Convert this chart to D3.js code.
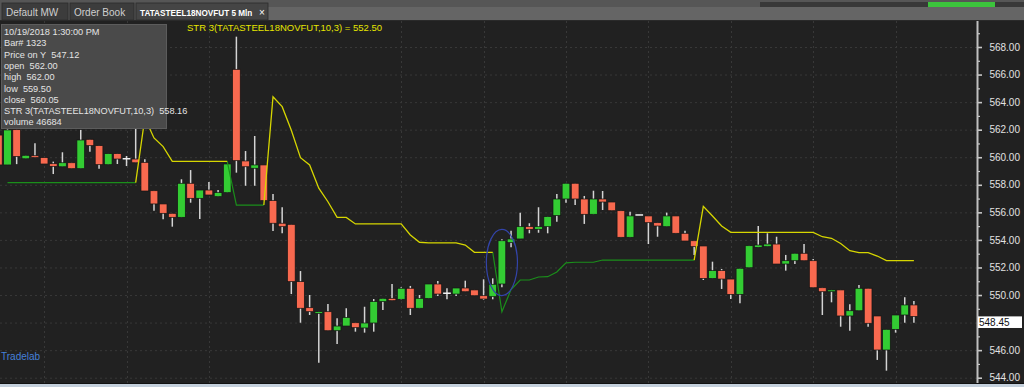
<!DOCTYPE html>
<html>
<head>
<meta charset="utf-8">
<script src="https://cdnjs.cloudflare.com/ajax/libs/d3/7.8.5/d3.min.js"></script>
<style>
  html, body { margin: 0; padding: 0; background: #212121; }
  svg { display: block; font-family: "Liberation Sans", Arial, sans-serif; }
</style>
</head>
<body>
<svg id="chart"></svg>
<script>
/* global d3 */

// 5 min bars, TATASTEEL18NOVFUT (first bar is cut at the left edge)
const open = [
  561.61, 559.44, 562.00, 559.89, 560.11, 559.97, 559.53, 559.31, 559.60, 559.17, 561.30,
  560.84, 559.46, 560.26, 559.89, 559.87, 559.63, 557.57, 556.61, 555.93, 555.64,
  558.11, 557.02, 557.62, 557.14, 557.43, 566.38, 559.73, 559.20, 559.44, 556.85,
  555.21, 555.13, 550.97, 549.08, 548.67, 548.79, 547.41, 547.75, 547.99, 547.61,
  547.97, 549.52, 549.76, 549.69, 550.49, 549.04, 549.76, 550.80, 550.13, 550.07,
  550.51, 550.37, 549.95, 549.88, 550.80, 553.80, 554.07, 554.96, 554.77, 554.96,
  555.76, 556.97, 558.11, 556.97, 555.86, 556.97, 556.75, 556.12, 554.19, 555.81,
  555.74, 555.25, 554.96, 555.74, 554.48, 553.94, 553.56, 551.21, 551.77, 551.16,
  550.05, 551.98, 553.46, 553.51, 553.70, 552.25, 552.49, 553.03, 552.49, 550.53,
  550.24, 550.37, 548.48, 548.86, 550.49, 548.48, 546.01, 547.51, 548.55, 549.28
];
const high = [
  561.75, 562.22, 562.00, 560.14, 561.01, 559.97, 559.68, 560.36, 559.60, 561.98, 561.30,
  560.84, 560.26, 560.26, 560.09, 562.17, 559.85, 557.57, 556.61, 555.93, 558.40,
  559.07, 557.62, 558.20, 557.62, 559.51, 568.75, 560.45, 561.54, 559.44, 557.33,
  556.37, 555.13, 551.74, 550.00, 548.79, 549.35, 548.31, 549.04, 547.99, 549.15,
  549.71, 549.76, 550.80, 550.56, 550.66, 550.00, 550.80, 551.02, 550.49, 550.51,
  551.04, 550.37, 551.14, 551.21, 554.05, 554.67, 555.98, 555.21, 556.37, 555.69,
  557.33, 558.11, 558.11, 557.19, 557.57, 557.55, 556.75, 556.12, 556.05, 555.81,
  555.74, 555.25, 555.98, 555.74, 554.67, 553.94, 553.56, 552.42, 551.89, 551.16,
  551.94, 553.58, 555.01, 554.48, 554.23, 552.91, 553.03, 553.70, 552.62, 550.53,
  550.37, 550.37, 549.33, 550.73, 550.49, 548.48, 547.51, 548.55, 549.84, 549.57
];
const low = [
  559.30, 559.44, 559.50, 559.89, 559.97, 559.51, 558.78, 559.31, 559.17, 559.17, 560.40,
  559.17, 559.46, 559.51, 559.36, 559.60, 557.55, 556.12, 555.50, 554.96, 555.64,
  556.70, 555.52, 557.26, 557.14, 557.43, 558.88, 557.93, 557.93, 556.85, 554.65,
  554.48, 550.07, 547.99, 548.55, 545.09, 547.41, 546.45, 547.75, 547.34, 547.27,
  547.34, 548.91, 549.59, 549.64, 548.55, 549.04, 549.76, 549.93, 549.69, 549.93,
  550.24, 549.95, 549.64, 549.69, 550.56, 553.46, 554.07, 554.48, 554.52, 554.48,
  555.32, 556.70, 556.53, 555.16, 555.86, 556.17, 556.12, 554.19, 554.19, 555.81,
  553.70, 554.23, 554.96, 554.48, 553.92, 552.91, 551.09, 551.21, 550.44, 549.71,
  549.40, 551.98, 553.46, 553.51, 552.25, 551.77, 552.25, 552.49, 550.53, 548.55,
  549.47, 547.70, 547.41, 548.86, 547.70, 545.29, 544.51, 547.27, 547.99, 547.99
];
const close = [
  559.44, 561.98, 560.05, 560.14, 559.97, 559.51, 559.34, 559.60, 559.17, 561.25, 560.84,
  559.46, 560.26, 559.87, 559.89, 559.60, 557.55, 556.61, 555.93, 555.64, 558.11,
  557.02, 557.62, 557.26, 557.43, 559.51, 559.75, 559.31, 559.44, 556.85, 555.21,
  554.96, 550.97, 549.04, 548.79, 548.79, 547.41, 547.75, 548.38, 547.63, 547.97,
  549.52, 549.76, 549.59, 550.49, 549.04, 549.76, 550.80, 550.07, 550.13, 550.51,
  550.24, 549.95, 549.71, 550.78, 553.94, 554.07, 554.96, 554.77, 554.96, 555.69,
  556.97, 558.11, 556.97, 555.86, 556.97, 556.75, 556.12, 554.19, 555.74, 555.81,
  555.25, 555.01, 555.74, 554.48, 553.92, 553.51, 551.21, 551.77, 551.16, 550.05,
  551.94, 553.58, 553.63, 553.70, 552.25, 552.49, 553.03, 552.49, 550.53, 550.24,
  550.37, 548.48, 548.86, 550.49, 547.95, 546.01, 547.51, 548.55, 549.28, 548.45
];

// STR 3(10,3): upper band (yellow) and lower band (green), null where inactive
const strUp = [
  null, null, null, null, null, null, null, null, null, null, null,
  null, null, null, null, null, 562.85, 561.40, 560.77, 559.70, 559.70,
  559.70, 559.70, 559.70, 559.70, 559.70, null, null, null, null, 564.39,
  563.67, 561.96, 559.97, 559.44, 557.75, 556.77, 555.64, 555.63, 555.16, 555.16,
  555.16, 555.16, 555.16, 555.16, 554.36, 553.83, 553.78, 553.78, 553.78, 553.78,
  553.63, 553.10, 553.10, 553.10, null, null, null, null, null, null,
  null, null, null, null, null, null, null, null, null, null,
  null, null, null, null, null, null, 556.44, 555.74, 555.01, 554.55,
  554.55, 554.55, 554.55, 554.55, 554.55, 554.55, 554.55, 554.55, 554.55, 554.23,
  554.12, 553.74, 553.22, 553.07, 553.07, 552.83, 552.50, 552.50, 552.50, 552.50
];
const strDn = [
  null, 558.16, 558.16, 558.16, 558.16, 558.16, 558.16, 558.16, 558.16, 558.16, 558.16,
  558.16, 558.16, 558.16, 558.16, 558.16, null, null, null, null, null,
  null, null, null, null, null, 556.53, 556.53, 556.53, 556.53, null,
  null, null, null, null, null, null, null, null, null, null,
  null, null, null, null, null, null, null, null, null, null,
  null, null, null, null, 548.79, 550.40, 551.09, 551.09, 551.31, 551.33,
  551.67, 552.33, 552.38, 552.38, 552.38, 552.54, 552.54, 552.54, 552.54, 552.54,
  552.54, 552.54, 552.54, 552.54, 552.54, 552.54, null, null, null, null,
  null, null, null, null, null, null, null, null, null, null,
  null, null, null, null, null, null, null, null, null, null
];

const yTicks = [544, 546, 548, 550, 552, 554, 556, 558, 560, 562, 564, 566, 568];
const yMinor = [545, 547, 549, 551, 553, 555, 557, 559, 561, 563, 565, 567, 569];
const gridBars = [5, 14, 23, 44, 53, 62, 71, 80, 89, 98];

const tabs = ["Default MW", "Order Book", "TATASTEEL18NOVFUT 5 Mln"];
const infoLines = [
  "10/19/2018 1:30:00 PM",
  "Bar# 1323",
  "Price on Y  547.12",
  "open  562.00",
  "high  562.00",
  "low  559.50",
  "close  560.05",
  "STR 3(TATASTEEL18NOVFUT,10,3)  558.16",
  "volume 46684"
];
const strTitle = "STR 3(TATASTEEL18NOVFUT,10,3) = 552.50";
const lastPrice = 548.45;
// circled bar
const mark = { bar: 55, price: 552.36, rBars: 1.7, rPrice: 2.4 };

const WIDTH = 1024;
const HEIGHT = 387;
const TOP = 21;
const BOTTOM = 384;
const AXIS_X = 977;

const svg = d3.select("#chart")
  .attr("width", WIDTH)
  .attr("height", HEIGHT);

const x = d3.scaleLinear()
  .domain([0, 100])
  .range([-1.655, 913.9]);

const y = d3.scaleLinear()
  .domain([544, 568])
  .range([377.7, 47]);

svg.append("rect")
  .attr("width", WIDTH)
  .attr("height", HEIGHT)
  .style("fill", "#212121");

svg.append("defs").append("clipPath")
  .attr("id", "plotClip")
  .append("rect")
  .attr("x", 0).attr("y", TOP)
  .attr("width", AXIS_X - 1).attr("height", BOTTOM - TOP);

// grid
let grid = svg.append("g").attr("class", "grid");

grid.selectAll(".hgrid")
  .data(yTicks)
.enter().append("line")
  .attr("class", "hgrid")
  .attr("x1", 0).attr("x2", AXIS_X)
  .attr("y1", d => y(d) + 0.5).attr("y2", d => y(d) + 0.5)
  .style("stroke", "#383838")
  .style("stroke-dasharray", "2,3");

grid.selectAll(".vgrid")
  .data(gridBars)
.enter().append("line")
  .attr("class", "vgrid")
  .attr("x1", d => Math.round(x(d)) + 0.5).attr("x2", d => Math.round(x(d)) + 0.5)
  .attr("y1", TOP).attr("y2", BOTTOM)
  .style("stroke", "#383838")
  .style("stroke-dasharray", "2,3");

let plot = svg.append("g")
  .attr("clip-path", "url(#plotClip)");

const bars = open.map((o, k) => ({ k: k, o: o, h: high[k], l: low[k], c: close[k] }));

// wicks
plot.selectAll(".wick")
  .data(bars)
.enter().append("line")
  .attr("class", "wick")
  .attr("x1", d => x(d.k)).attr("x2", d => x(d.k))
  .attr("y1", d => y(d.h)).attr("y2", d => y(d.l))
  .style("stroke", "#d4d4d4")
  .style("stroke-width", 1.5);

const BODY = 7.7;

plot.selectAll(".body")
  .data(bars.filter(d => d.o !== d.c))
.enter().append("rect")
  .attr("class", "body")
  .attr("x", d => x(d.k) - BODY / 2)
  .attr("y", d => y(Math.max(d.o, d.c)))
  .attr("width", BODY)
  .attr("height", d => Math.max(1.5, Math.abs(y(d.o) - y(d.c))))
  .style("fill", d => d.c > d.o ? "#33cc33" : "#f8694f")
  .style("stroke", "#141414")
  .style("stroke-width", 0.7);

// doji bars
plot.selectAll(".doji")
  .data(bars.filter(d => d.o === d.c))
.enter().append("line")
  .attr("class", "doji")
  .attr("x1", d => x(d.k) - BODY / 2).attr("x2", d => x(d.k) + BODY / 2)
  .attr("y1", d => y(d.c)).attr("y2", d => y(d.c))
  .style("stroke", "#f0f0f0")
  .style("stroke-width", 1.5);

// supertrend, each run joined to the last point of the other band
function bandRuns(vals, other) {
  let runs = [];
  let cur = null;
  vals.forEach((v, k) => {
    if (v === null) { cur = null; return; }
    if (cur === null) {
      cur = [];
      if (k > 0 && other[k - 1] !== null) cur.push([k - 1, other[k - 1]]);
      runs.push(cur);
    }
    cur.push([k, v]);
  });
  return runs;
}

const line = d3.line()
  .x(d => x(d[0]))
  .y(d => y(d[1]));

plot.selectAll(".strDn")
  .data(bandRuns(strDn, strUp))
.enter().append("path")
  .attr("class", "strDn")
  .attr("d", line)
  .style("fill", "none")
  .style("stroke", "#1b8f1b")
  .style("stroke-width", 1.2);

plot.selectAll(".strUp")
  .data(bandRuns(strUp, strDn))
.enter().append("path")
  .attr("class", "strUp")
  .attr("d", line)
  .style("fill", "none")
  .style("stroke", "#d6d600")
  .style("stroke-width", 1.3);

plot.append("ellipse")
  .attr("cx", x(mark.bar))
  .attr("cy", y(mark.price))
  .attr("rx", x(mark.rBars) - x(0))
  .attr("ry", y(0) - y(mark.rPrice))
  .style("fill", "none")
  .style("stroke", "#3344aa")
  .style("stroke-width", 1.2);

// STR legend
svg.append("text")
  .attr("x", 187).attr("y", 30.5)
  .style("font-size", "9.5px")
  .style("fill", "#e6e600")
  .text(strTitle);

// info box
let info = svg.append("g").attr("class", "info");
info.append("rect")
  .attr("x", 1.5).attr("y", 24.5)
  .attr("width", 165).attr("height", 104)
  .style("fill", "#4a4a4a")
  .style("stroke", "#5c5c5c");

info.selectAll("text")
  .data(infoLines)
.enter().append("text")
  .attr("x", 4)
  .attr("y", (d, i) => 35 + i * 11.3)
  .style("font-size", "9.2px")
  .style("white-space", "pre")
  .style("fill", "#e4e4e4")
  .text(d => d);

svg.append("text")
  .attr("x", 1).attr("y", 360)
  .style("font-size", "10px")
  .style("fill", "#4580d8")
  .text("Tradelab");

// price axis
let axisG = svg.append("g")
  .attr("transform", "translate(" + AXIS_X + ",0)");

axisG.append("g")
  .call(d3.axisRight(y).tickValues(yMinor).tickSize(3).tickFormat(""))
  .call(g => g.select(".domain").remove())
  .selectAll("line").style("stroke", "#c8c8c8").style("stroke-width", 1.2);

// the last price box hides the label it sits on
const hidden = d => Math.abs(y(d) - y(lastPrice) - 6) < 9;

let major = axisG.append("g")
  .call(d3.axisRight(y).tickValues(yTicks).tickSize(5)
    .tickFormat(d => hidden(d) ? "" : d3.format(".2f")(d)))
  .call(g => g.select(".domain").remove());

major.selectAll("line").style("stroke", "#c8c8c8").style("stroke-width", 1.6);
major.selectAll("text")
  .attr("x", 43)
  .attr("text-anchor", "end")
  .style("font-family", "Liberation Sans, Arial, sans-serif")
  .style("font-size", "10px")
  .style("fill", "#e2e2e2");

axisG.append("line")
  .attr("x1", 0.5).attr("x2", 0.5)
  .attr("y1", TOP).attr("y2", BOTTOM)
  .style("stroke", "#c0c0c0")
  .style("stroke-width", 2);

axisG.append("rect")
  .attr("x", 1).attr("y", y(lastPrice))
  .attr("width", 44).attr("height", 11.6)
  .style("fill", "#ffffff");

axisG.append("text")
  .attr("x", 2).attr("y", y(lastPrice) + 9.5)
  .style("font-size", "10px")
  .style("fill", "#111")
  .text(d3.format(".2f")(lastPrice));

// bottom border
svg.append("rect")
  .attr("x", 0).attr("y", BOTTOM)
  .attr("width", WIDTH).attr("height", HEIGHT - BOTTOM)
  .style("fill", "#c4d0dc");
svg.append("rect")
  .attr("x", 0).attr("y", BOTTOM - 1)
  .attr("width", WIDTH).attr("height", 1)
  .style("fill", "#111");

// header with tabs
let head = svg.append("g").attr("class", "tabs");
head.append("rect")
  .attr("width", WIDTH).attr("height", TOP)
  .style("fill", "#565656");
head.append("rect")
  .attr("x", 268).attr("y", 7)
  .attr("width", WIDTH - 268).attr("height", 13)
  .style("fill", "#656565");
head.append("rect")
  .attr("x", 760).attr("y", 2)
  .attr("width", WIDTH - 760).attr("height", 5)
  .style("fill", "#383838");
head.append("rect")
  .attr("x", 928).attr("y", 2)
  .attr("width", 67).attr("height", 5)
  .style("fill", "#3cc43c");
head.append("rect")
  .attr("y", TOP - 1)
  .attr("width", WIDTH).attr("height", 1)
  .style("fill", "#2a2a2a");

const tabX = [2, 70, 136];
const tabW = [66, 64, 132];

head.selectAll(".tab")
  .data(tabs)
.enter().append("rect")
  .attr("class", "tab")
  .attr("x", (d, i) => tabX[i]).attr("y", 3)
  .attr("width", (d, i) => tabW[i]).attr("height", 17)
  .style("fill", (d, i) => i === 2 ? "#454545" : "#3c3c3c")
  .style("stroke", "#2c2c2c")
  .style("stroke-width", 0.8);

head.selectAll(".tabText")
  .data(tabs)
.enter().append("text")
  .attr("class", "tabText")
  .attr("x", (d, i) => tabX[i] + 4)
  .attr("y", 15.5)
  .style("font-size", (d, i) => i === 2 ? "8.2px" : "10px")
  .style("font-weight", (d, i) => i === 2 ? "bold" : "normal")
  .style("fill", (d, i) => i === 2 ? "#ffffff" : "#cfcfcf")
  .text(d => d);

head.append("text")
  .attr("x", 259).attr("y", 15.5)
  .style("font-size", "10px")
  .style("fill", "#ffffff")
  .text("\u00d7");
</script>
</body>
</html>
